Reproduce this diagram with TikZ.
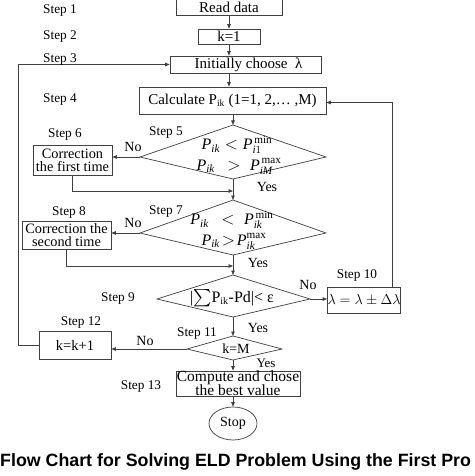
\documentclass[tikz,border=0pt]{standalone}
\usepackage{amsmath}
\usepackage{fontspec}
\setmainfont{Liberation Serif}
\newfontfamily\capfont{Liberation Sans}
\usetikzlibrary{arrows.meta,shapes.geometric}
\newcommand{\Pit}{\textit{P}}
\tikzset{
  ln/.style={draw=black!75, line width=0.7pt},
  arr/.style={ln, -{Triangle[length=4.5pt,width=3.5pt]}},
  box/.style={ln, rectangle, inner sep=0pt, align=center, font=\fontsize{15}{15}\selectfont},
  steplbl/.style={inner sep=0pt, font=\fontsize{13.3}{13.3}\selectfont},
  yn/.style={inner sep=0pt, font=\fontsize{14}{14}\selectfont},
  dtext/.style={inner sep=0pt, font=\fontsize{16}{16}\selectfont},
}
\begin{document}
\begin{tikzpicture}[x=1pt,y=-1pt]
\useasboundingbox (0,0) rectangle (474,476);
\begin{scope}
\clip (0,0) rectangle (474,476);
\fill[white] (0,0) rectangle (474,476);
% boxes
\node[box, minimum width=106pt, minimum height=16pt] (read) at (229,7) {Read data};
\node[box, minimum width=62pt, minimum height=15pt] (k1) at (229,36.5) {k=1};
\node[box, minimum width=151pt, minimum height=17pt] (init) at (245.5,64.5) {\hspace*{6pt}Initially choose\ \ λ};
\node[box, minimum width=187pt, minimum height=27pt] (calc) at (232.5,100.5) {Calculate P\textsubscript{\fontsize{9.5}{9.5}\selectfont ik}\ (1=1, 2,\ldots\ ,M)};
\node[box, minimum width=79pt, minimum height=30pt, font=\fontsize{14.3}{14.3}\selectfont] (corr1) at (72.5,160) {Correction\\[-1pt]the first time};
\node[box, minimum width=89pt, minimum height=28pt, font=\fontsize{14.3}{14.3}\selectfont] (corr2) at (66.5,235) {Correction the\\[-1pt]second time};
\node[box, minimum width=72pt, minimum height=26pt] (lam) at (364,300) {$\lambda = \lambda \pm \Delta\lambda$};
\node[box, minimum width=72pt, minimum height=28pt, font=\fontsize{14.5}{14.5}\selectfont] (kk) at (75,345) {k=k+1};
\node[box, minimum width=124pt, minimum height=25pt, font=\fontsize{15.5}{14}\selectfont] (comp) at (238,383.5) {Compute and chose\\[-1pt]the best value};
\node[ln, ellipse, minimum width=48pt, minimum height=33pt, inner sep=0pt, font=\fontsize{14}{14}\selectfont] (stop) at (233,423.5) {Stop};
% diamonds
\coordinate (d1t) at (233,125); \coordinate (d1l) at (140,157);
\coordinate (d1r) at (326,157); \coordinate (d1b) at (233,179);
\draw[ln] (d1t) -- (d1r) -- (d1b) -- (d1l) -- cycle;
\node[dtext] (d1a) at (237,145) {$\Pit_{\textit{ik}} < \Pit_{\textit{i}1}^{\,\text{min}}$};
\node[dtext] (d1b2) at (239,166.5) {$\Pit_{\textit{ik}}\;\, > \;\Pit_{\textit{iM}}^{\,\text{max}}$};
\coordinate (d2t) at (233,200); \coordinate (d2l) at (140,233);
\coordinate (d2r) at (326,233); \coordinate (d2b) at (233,255);
\draw[ln] (d2t) -- (d2r) -- (d2b) -- (d2l) -- cycle;
\node[dtext] (d2a) at (232,220) {$\Pit_{\textit{ik}}\;\, < \;\Pit_{\textit{ik}}^{\,\text{min}}$};
\node[dtext] (d2b2) at (234,241.5) {$\Pit_{\textit{ik}}\! > \!\Pit_{\textit{ik}}^{\text{max}}$};
\coordinate (d3t) at (233,275); \coordinate (d3l) at (157,299);
\coordinate (d3r) at (310,299); \coordinate (d3b) at (233,317);
\draw[ln] (d3t) -- (d3r) -- (d3b) -- (d3l) -- cycle;
\node[inner sep=0pt, font=\fontsize{16}{16}\selectfont] (d3txt) at (232,298) {|{\fontsize{18}{18}\selectfont$\sum$}P\textsubscript{\fontsize{10}{10}\selectfont ik}-Pd|<\ ε};
\coordinate (d4t) at (233,336); \coordinate (d4l) at (187,349);
\coordinate (d4r) at (282,349); \coordinate (d4b) at (233,360);
\draw[ln] (d4t) -- (d4r) -- (d4b) -- (d4l) -- cycle;
\node[inner sep=0pt, font=\fontsize{14}{14}\selectfont] (d4txt) at (236,349) {k=M};
% junctions
\coordinate (j1) at (233,191);
\coordinate (j2) at (233,266);
% connectors
\draw[arr] (read.south) -- (k1.north);
\draw[arr] (k1.south) -- (k1.south |- init.north);
\draw[arr] (k1.south |- init.south) -- (k1.south |- calc.north);
\draw[arr] (d1t |- calc.south) -- (d1t);
\draw[arr] (d1b) -- (d2t);
\draw[arr] (d2b) -- (d3t);
\draw[arr] (d3b) -- (d4t);
\draw[arr] (d4b) -- (d4b |- comp.north);
\draw[arr] (d4b |- comp.south) -- (stop.north);
\draw[arr] (d1l) -- (d1l -| corr1.east);
\draw[arr] (d2l) -- (d2l -| corr2.east);
\draw[arr] (corr1.south) |- (j1);
\draw[arr] (corr2.south) |- (j2);
\draw[arr] (d3r) -- (d3r -| lam.west);
\draw[arr] ([xshift=28pt]lam.north) |- ([yshift=-2pt]calc.east);
\draw[arr] (d4l) -- (d4l -| kk.east);
\draw[arr] (kk.west) -- ++(-20,0) |- (init.west);
% step labels
\node[steplbl] (s1) at (60,11) {Step 1};
\node[steplbl] (s2) at (60,37) {Step 2};
\node[steplbl] (s3) at (60,60) {Step 3};
\node[steplbl] (s4) at (60,100) {Step 4};
\node[steplbl] (s5) at (166,133) {Step 5};
\node[steplbl] (s6) at (65,135) {Step 6};
\node[steplbl] (s7) at (166,212) {Step 7};
\node[steplbl] (s8) at (69,212) {Step 8};
\node[steplbl] (s9) at (118,299) {Step 9};
\node[steplbl] (s10) at (357,275) {Step 10};
\node[steplbl] (s11) at (197,334) {Step 11};
\node[steplbl] (s12) at (81,323) {Step 12};
\node[steplbl] (s13) at (141,387) {Step 13};
% yes / no
\node[yn] (no1) at (133,147) {No};
\node[yn] (no2) at (133,223) {No};
\node[yn] (no3) at (308,285) {No};
\node[yn] (no4) at (145,341) {No};
\node[yn] (yes1) at (267,187) {Yes};
\node[yn] (yes2) at (258,263) {Yes};
\node[yn] (yes3) at (258,328) {Yes};
\node[yn, font=\fontsize{13}{13}\selectfont] (yes4) at (266,363) {Yes};
% caption
\node[anchor=base west, inner sep=0pt, font=\capfont\bfseries\fontsize{17.8}{20}\selectfont] (cap) at (0,466) {Flow Chart for Solving ELD Problem Using the First Pro};
\end{scope}
\end{tikzpicture}
\end{document}
